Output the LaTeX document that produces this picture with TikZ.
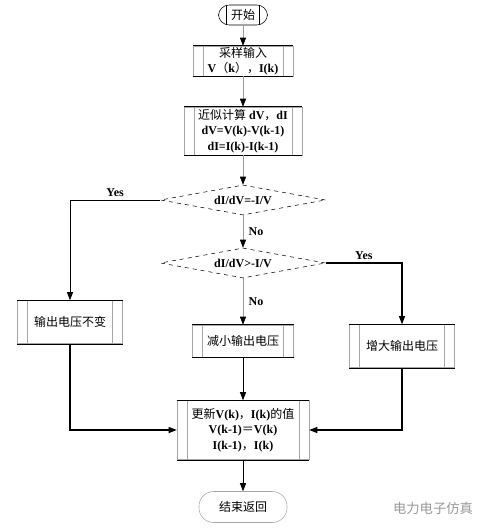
\documentclass[tikz,border=0pt]{standalone}
\usepackage{fontspec}
\setmainfont{Liberation Serif}
\newfontfamily\cjk{Noto Sans CJK SC}
\newcommand{\zh}[1]{{\cjk #1}}
\usetikzlibrary{arrows.meta,positioning,calc,shapes.geometric}

\begin{document}
\begin{tikzpicture}[x=0.75pt,y=-0.75pt,
  font=\fontsize{9}{11.5}\selectfont,
  every node/.style={inner sep=0pt},
  proc/.style={draw=gray!70,align=center,
    path picture={\draw[gray!70] ([xshift=7.5pt]path picture bounding box.north west) -- ([xshift=7.5pt]path picture bounding box.south west);
      \draw[gray!70] ([xshift=-7.5pt]path picture bounding box.north east) -- ([xshift=-7.5pt]path picture bounding box.south east);}},
  term/.style={draw,rounded corners=8pt},
  cond/.style={draw,dashed,diamond,aspect=5.5,minimum width=123.75pt,minimum height=22.5pt,font=\fontsize{9}{11}\selectfont\bfseries},
  flow/.style={draw=gray!80,-{Triangle[length=6pt,width=4.5pt,color=black]}},
  flowb/.style={draw,semithick,-{Triangle[length=6pt,width=4.5pt]}},
  lbl/.style={font=\fontsize{9}{11}\selectfont\bfseries}]
\useasboundingbox (0,0) rectangle (483,532);

% terminals
\node[term,minimum width=36.75pt,minimum height=15pt] (start) at (243,15) {\zh{开始}};
\draw (start.north) ++(-12.4pt,0) -- ++(0,-15pt);
\draw (start.north) ++(12.4pt,0) -- ++(0,-15pt);
\node[term,draw=gray!70,rounded corners=11pt,minimum width=66pt,minimum height=23.25pt] (end) at (243,507) {\zh{结束返回}};

% process boxes
\node[proc,minimum width=75pt,minimum height=22.5pt] (sample) at (243,61)
  {\zh{采样输入}\\\textbf{V}\zh{（}\textbf{k}\zh{），}\textbf{I(k)}};
\node[proc,minimum width=88.5pt,minimum height=36pt] (calc) at (243,131)
  {\zh{近似计算} \textbf{dV}\zh{，}\textbf{dI}\\\textbf{dV=V(k)-V(k-1)}\\\textbf{dI=I(k)-I(k-1)}};
\node[proc,minimum width=78.75pt,minimum height=32.25pt] (keep) at (70,322) {\zh{输出电压不变}};
\node[proc,minimum width=75.75pt,minimum height=24pt] (dec) at (243,341) {\zh{减小输出电压}};
\node[proc,minimum width=78.75pt,minimum height=32.25pt] (inc) at (402,346) {\zh{增大输出电压}};
\node[proc,minimum width=99pt,minimum height=44.25pt] (upd) at (243,430)
  {\zh{更新}\textbf{V(k)}\zh{，}\textbf{I(k)}\zh{的值}\\\textbf{V(k-1)}\zh{＝}\textbf{V(k)}\\\textbf{I(k-1)}\zh{，}\textbf{I(k)}};
\foreach \n in {sample,calc,keep,dec,inc,upd} {
  \draw[thick] (\n.north west) -- (\n.north east);
  \draw (\n.south west) -- (\n.south east);
}

% decisions
\node[cond] (eq) at (243,200) {dI/dV=-I/V};
\node[cond] (gt) at (243,263) {dI/dV>-I/V};

% connectors
\draw[flow] (start) -- (sample);
\draw[flow] (sample) -- (calc);
\draw[flow] (calc) -- (eq);
\draw[flowb,draw=black] (eq.west) -| node[pos=0.25,above=2pt,lbl] {Yes} (keep.north);
\draw[flow] (eq) -- node[midway,right=4pt,lbl] {No} (gt);
\draw[flowb,thick] (gt.east) -| node[pos=0.25,above=2pt,lbl] {Yes} (inc.north);
\draw[flow] (gt) -- node[midway,right=4pt,lbl] {No} (dec);
\draw[flowb,thick] (keep.south) |- (upd.west);
\draw[flowb,thick] (inc.south) |- (upd.east);
\draw[flowb] (dec) -- (upd);
\draw[flowb] (upd) -- (end);

% watermark
\node[text=gray!80,font=\fontsize{10}{12}\selectfont] (mark) at (433,508) {\zh{电力电子仿真}};
\end{tikzpicture}
\end{document}
